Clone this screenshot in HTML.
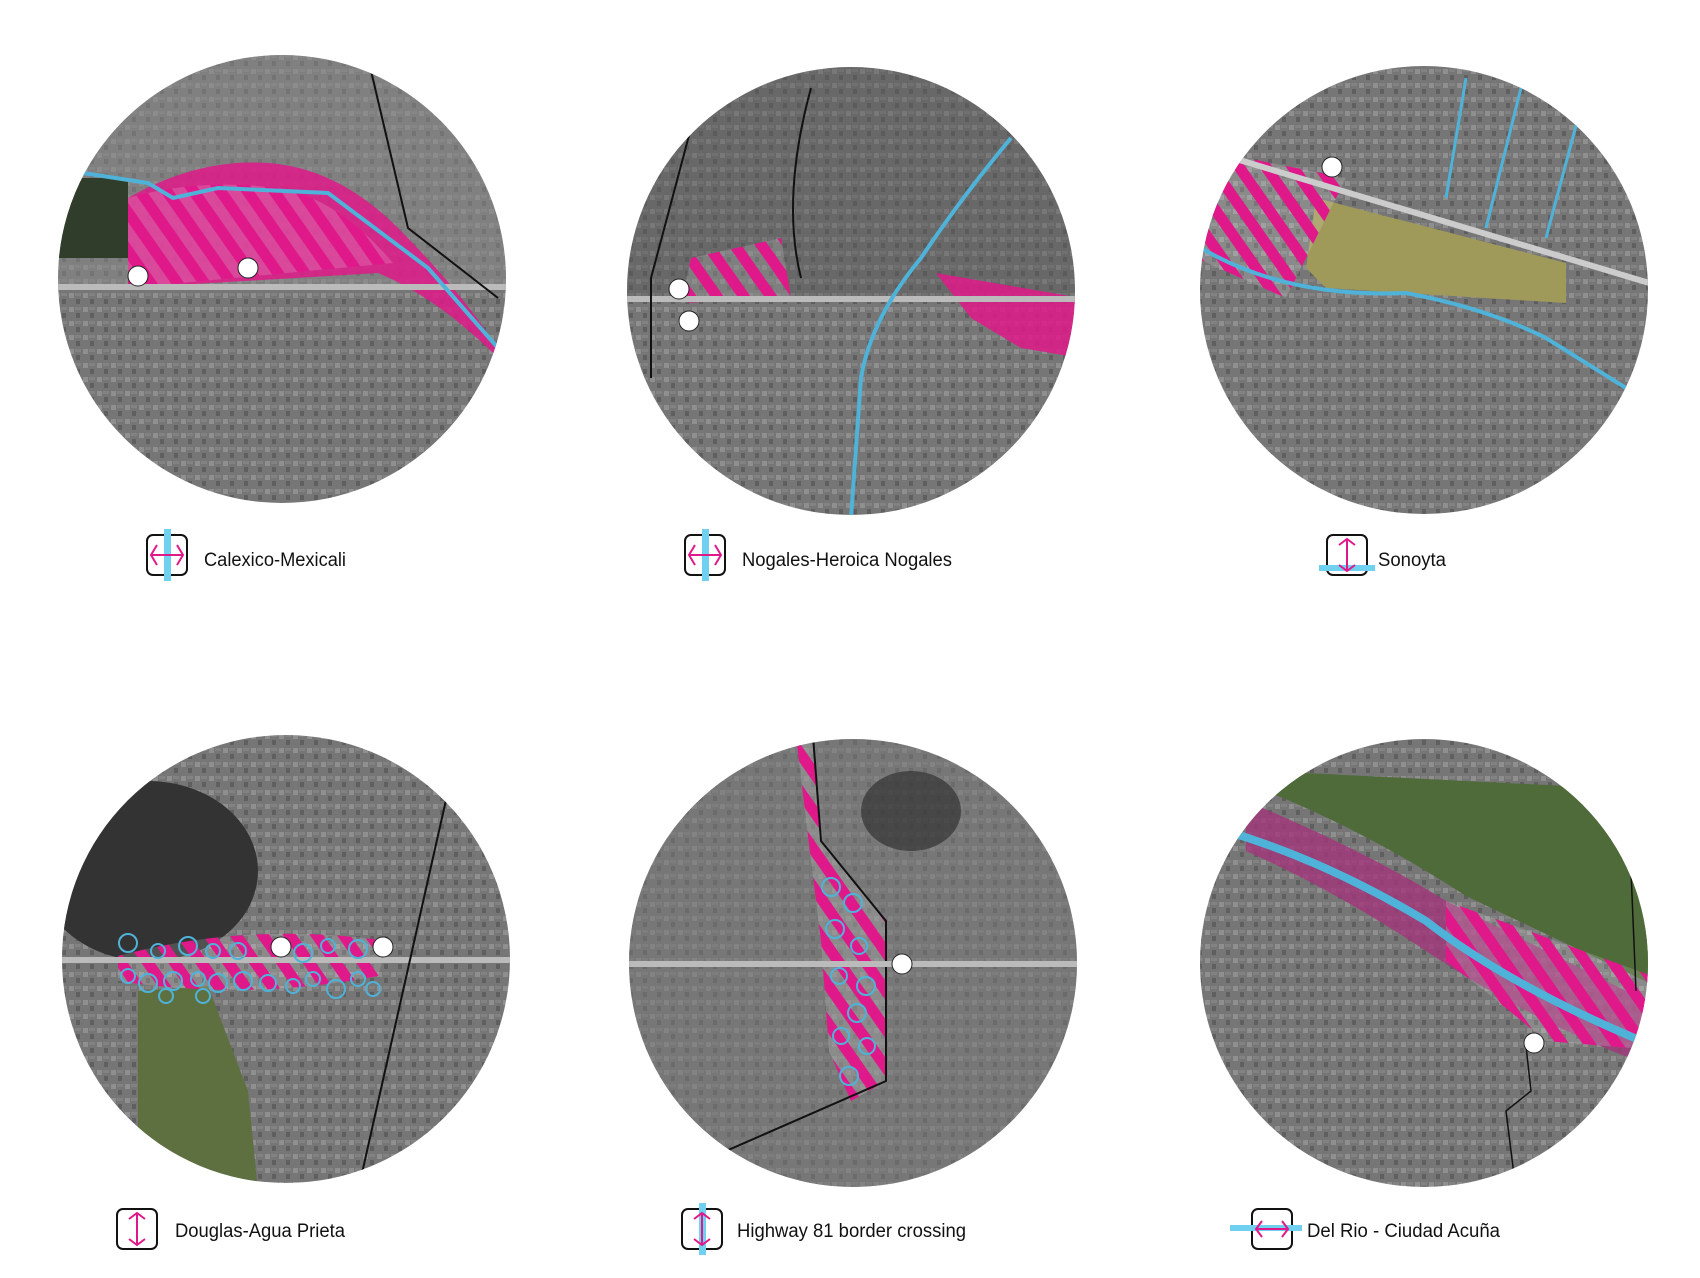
<!DOCTYPE html>
<html><head><meta charset="utf-8"><style>
body{margin:0;background:#fff;}
svg{display:block}
text{font-family:"Liberation Sans",sans-serif;font-size:19px;fill:#111}
</style></head><body>
<svg width="1700" height="1278" viewBox="0 0 1700 1278" xmlns="http://www.w3.org/2000/svg">
<defs>
<pattern id="hatch" width="22" height="22" patternUnits="userSpaceOnUse" patternTransform="rotate(-35)">
<rect width="22" height="22" fill="rgba(255,255,255,0.15)"/><rect width="11" height="22" fill="#e0198a"/></pattern>
<pattern id="tex" width="14" height="14" patternUnits="userSpaceOnUse">
<rect width="14" height="14" fill="#767676"/><rect x="1" y="1" width="5" height="5" fill="#8f8f8f"/><rect x="8" y="7" width="4" height="5" fill="#5f5f5f"/><rect x="7" y="1" width="6" height="3" fill="#828282"/></pattern>
<clipPath id="c1"><circle cx="284" cy="281" r="224"/></clipPath>
<clipPath id="c2"><circle cx="860" cy="293" r="224"/></clipPath>
<clipPath id="c3"><circle cx="1438" cy="292" r="224"/></clipPath>
<clipPath id="c4"><circle cx="288" cy="968" r="224"/></clipPath>
<clipPath id="c5"><circle cx="862" cy="972" r="224"/></clipPath>
<clipPath id="c6"><circle cx="1438" cy="972" r="224"/></clipPath>
</defs>

<g clip-path="url(#c1)" transform="translate(-2,-2)">
<rect x="50" y="50" width="470" height="470" fill="url(#tex)"/>
<rect x="50" y="50" width="470" height="240" fill="#8a8a8a" opacity="0.5"/>
<rect x="55" y="180" width="75" height="80" fill="#2f3d2a"/>
<path d="M130 200 Q200 160 270 165 Q340 170 400 230 Q460 290 500 350 L500 360 Q440 300 380 275 L130 290Z" fill="#e0198a" opacity="0.85"/>
<path d="M130 200 Q200 180 280 190 Q340 200 395 265 L130 290Z" fill="url(#hatch)"/>
<rect x="50" y="286" width="470" height="6" fill="#bbb"/>
<path d="M370 60 L410 230 L500 300" stroke="#111" stroke-width="2" fill="none"/>
<path d="M85 175 L150 185 L175 200 L220 190 L330 195 L430 270 L500 350" stroke="#4fb3d9" stroke-width="4" fill="none"/>
<circle cx="140" cy="278" r="10" fill="#fff" stroke="#222"/><circle cx="250" cy="270" r="10" fill="#fff" stroke="#222"/>
</g>
<g transform="translate(-9,-2)"><g clip-path="url(#c2)">
<rect x="630" y="60" width="470" height="470" fill="url(#tex)"/>
<rect x="630" y="60" width="470" height="240" fill="#555" opacity="0.4"/>
<path d="M700 260 L790 240 L800 300 L690 305Z" fill="url(#hatch)"/>
<path d="M945 275 L1090 300 L1090 360 L1030 350 L980 320Z" fill="#e0198a" opacity="0.85"/>
<rect x="630" y="298" width="470" height="6" fill="#bbb"/>
<path d="M700 130 L660 280 L660 380" stroke="#111" stroke-width="2" fill="none"/>
<path d="M820 90 Q790 200 810 280" stroke="#111" stroke-width="2" fill="none"/>
<path d="M1020 140 Q970 200 930 260 Q880 320 870 380 L860 520" stroke="#4fb3d9" stroke-width="4" fill="none"/>
<circle cx="688" cy="291" r="10" fill="#fff" stroke="#222"/><circle cx="698" cy="323" r="10" fill="#fff" stroke="#222"/>
</g></g>
<g transform="translate(-14,-2)"><g clip-path="url(#c3)">
<rect x="1210" y="60" width="470" height="470" fill="url(#tex)"/>
<path d="M1330 200 L1580 265 L1580 305 L1340 290 L1320 270Z" fill="#a09a5a"/>
<path d="M1210 150 L1360 180 L1300 300 L1210 260Z" fill="url(#hatch)"/>
<path d="M1220 152 L1680 290" stroke="#ccc" stroke-width="6"/>
<path d="M1215 250 Q1300 300 1420 295 Q1500 310 1560 340 L1640 390" stroke="#4fb3d9" stroke-width="4" fill="none"/>
<path d="M1480 80 L1460 200 M1540 70 L1500 230 M1600 90 L1560 240" stroke="#4fb3d9" stroke-width="3" fill="none"/>
<circle cx="1346" cy="169" r="10" fill="#fff" stroke="#222"/>
</g></g>
<g transform="translate(-2,-9)"><g clip-path="url(#c4)">
<rect x="60" y="740" width="470" height="470" fill="url(#tex)"/>
<ellipse cx="150" cy="880" rx="110" ry="90" fill="#333"/>
<path d="M140 1000 L210 995 L250 1100 L260 1200 L140 1200Z" fill="#5e7040"/>
<path d="M120 965 Q250 930 390 950 L380 985 Q250 1010 120 990Z" fill="url(#hatch)"/>
<rect x="60" y="966" width="470" height="6" fill="#bbb"/>
<path d="M450 800 L360 1200" stroke="#111" stroke-width="2"/>
<g fill="none" stroke="#4fb3d9" stroke-width="2">
<circle cx="130" cy="952" r="9"/><circle cx="160" cy="960" r="7"/><circle cx="190" cy="955" r="9"/><circle cx="215" cy="960" r="7"/><circle cx="240" cy="960" r="8"/><circle cx="305" cy="962" r="9"/><circle cx="330" cy="955" r="7"/><circle cx="360" cy="958" r="9"/>
<circle cx="130" cy="985" r="7"/><circle cx="150" cy="992" r="9"/><circle cx="175" cy="990" r="9"/><circle cx="200" cy="988" r="7"/><circle cx="220" cy="992" r="9"/><circle cx="245" cy="990" r="9"/><circle cx="270" cy="992" r="8"/><circle cx="295" cy="995" r="7"/><circle cx="315" cy="988" r="7"/><circle cx="338" cy="998" r="9"/><circle cx="360" cy="988" r="7"/><circle cx="375" cy="998" r="7"/><circle cx="168" cy="1005" r="7"/><circle cx="205" cy="1005" r="7"/>
</g>
<circle cx="283" cy="956" r="10" fill="#fff" stroke="#222"/><circle cx="385" cy="956" r="10" fill="#fff" stroke="#222"/>
</g></g>
<g transform="translate(-9,-9)"><g clip-path="url(#c5)">
<rect x="630" y="740" width="470" height="470" fill="url(#tex)"/>
<rect x="630" y="740" width="470" height="470" fill="#777" opacity="0.5"/>
<ellipse cx="920" cy="820" rx="50" ry="40" fill="#333" opacity="0.7"/>
<path d="M805 745 L822 745 L830 850 L895 930 L895 1090 L860 1110 L838 1060 L830 950 L820 870Z" fill="url(#hatch)"/>
<path d="M822 745 L830 850 L895 930 L895 1090 L735 1160" stroke="#111" stroke-width="2" fill="none"/>
<rect x="630" y="970" width="470" height="6" fill="#bbb"/>
<g fill="none" stroke="#4fb3d9" stroke-width="2">
<circle cx="840" cy="896" r="9"/><circle cx="862" cy="912" r="9"/><circle cx="844" cy="938" r="9"/><circle cx="868" cy="955" r="8"/><circle cx="848" cy="985" r="8"/><circle cx="875" cy="995" r="9"/><circle cx="866" cy="1022" r="9"/><circle cx="850" cy="1045" r="8"/><circle cx="876" cy="1055" r="8"/><circle cx="858" cy="1085" r="9"/>
</g>
<circle cx="911" cy="973" r="10" fill="#fff" stroke="#222"/>
</g></g>
<g transform="translate(-14,-9)"><g clip-path="url(#c6)">
<rect x="1210" y="740" width="470" height="470" fill="url(#tex)"/>
<path d="M1280 780 L1680 800 L1680 1000 L1480 905 Q1380 840 1280 800Z" fill="#4f6b3a"/>
<path d="M1260 810 Q1380 860 1460 910 L1680 1020 L1680 1080 Q1560 1040 1440 960 Q1350 900 1260 860Z" fill="#a3357a" opacity="0.8"/>
<path d="M1460 910 L1680 990 L1680 1060 L1560 1050 Q1500 1000 1460 970Z" fill="url(#hatch)"/>
<path d="M1240 840 Q1340 870 1440 930 Q1530 1000 1680 1060" stroke="#4fb3d9" stroke-width="8" fill="none"/>
<path d="M1540 1055 L1545 1100 L1520 1120 L1530 1200" stroke="#111" stroke-width="1.5" fill="none"/>
<path d="M1640 760 L1650 1000" stroke="#111" stroke-width="1.5" fill="none"/>
<circle cx="1548" cy="1052" r="10" fill="#fff" stroke="#222"/>
</g></g>

<g fill="none" stroke-width="2">
<g transform="translate(147,535)"><rect width="40" height="40" rx="6" stroke="#111"/><rect x="17" y="-6" width="7" height="52" fill="#6fd0f0" stroke="none"/><path d="M4 20 L36 20 M10 10 L4 20 L10 30 M30 10 L36 20 L30 30" stroke="#e0198a"/></g>
<g transform="translate(685,535)"><rect width="40" height="40" rx="6" stroke="#111"/><rect x="17" y="-6" width="7" height="52" fill="#6fd0f0" stroke="none"/><path d="M4 20 L36 20 M10 10 L4 20 L10 30 M30 10 L36 20 L30 30" stroke="#e0198a"/></g>
<g transform="translate(1327,535)"><rect width="40" height="40" rx="6" stroke="#111"/><rect x="-8" y="30" width="56" height="6" fill="#6fd0f0" stroke="none"/><path d="M20 4 L20 36 M12 10 L20 4 L28 10 M12 30 L20 36 L28 30" stroke="#e0198a"/></g>
<g transform="translate(117,1209)"><rect width="40" height="40" rx="6" stroke="#111"/><path d="M20 4 L20 36 M12 10 L20 4 L28 10 M12 30 L20 36 L28 30" stroke="#e0198a"/></g>
<g transform="translate(682,1209)"><rect width="40" height="40" rx="6" stroke="#111"/><rect x="17" y="-6" width="7" height="52" fill="#6fd0f0" stroke="none"/><path d="M20 4 L20 36 M12 10 L20 4 L28 10 M12 30 L20 36 L28 30" stroke="#e0198a"/></g>
<g transform="translate(1252,1209)"><rect width="40" height="40" rx="6" stroke="#111"/><rect x="-22" y="16" width="72" height="6" fill="#6fd0f0" stroke="none"/><path d="M4 20 L36 20 M10 12 L4 20 L10 28 M30 12 L36 20 L30 28" stroke="#e0198a"/></g>
</g>
<text x="204" y="566" textLength="142" lengthAdjust="spacingAndGlyphs">Calexico-Mexicali</text>
<text x="742" y="566" textLength="210" lengthAdjust="spacingAndGlyphs">Nogales-Heroica Nogales</text>
<text x="1378" y="566" textLength="68" lengthAdjust="spacingAndGlyphs">Sonoyta</text>
<text x="175" y="1237" textLength="170" lengthAdjust="spacingAndGlyphs">Douglas-Agua Prieta</text>
<text x="737" y="1237" textLength="229" lengthAdjust="spacingAndGlyphs">Highway 81 border crossing</text>
<text x="1307" y="1237" textLength="193" lengthAdjust="spacingAndGlyphs">Del Rio - Ciudad Acuña</text>
</svg>
</body></html>
